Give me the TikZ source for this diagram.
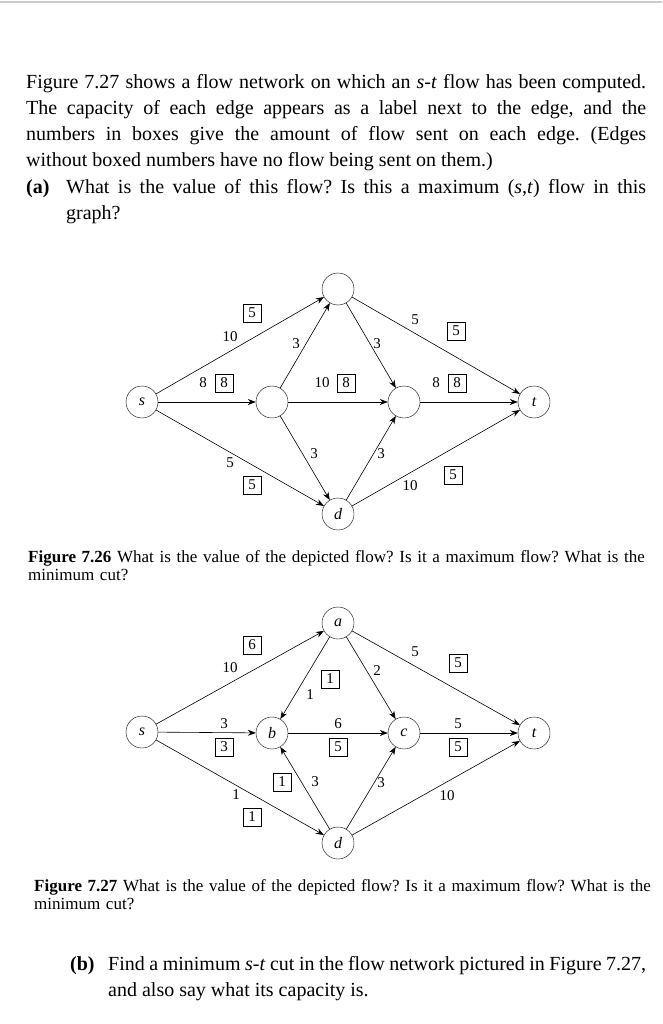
\documentclass[tikz,border=0pt]{standalone}
\usepackage{fontspec}
\setmainfont{Liberation Serif}
\usetikzlibrary{arrows.meta}
\frenchspacing
\begin{document}
\begin{tikzpicture}[x=1pt,y=-1pt,
  vtx/.style={circle,draw,minimum size=32pt,inner sep=0pt,font=\fontsize{16}{16}\selectfont\itshape},
  edge/.style={draw,-{Stealth[length=8pt,width=6pt]},line width=0.6pt},
  capl/.style={font=\fontsize{15}{15}\selectfont,inner sep=1pt},
  fl/.style={draw,font=\fontsize{15}{15}\selectfont,minimum size=18pt,inner sep=0pt},
  para/.style={anchor=north west,inner sep=0pt,align=justify,font=\fontsize{20}{26}\selectfont},
  capt/.style={anchor=north west,inner sep=0pt,align=left,font=\fontsize{17}{18}\selectfont}]
\useasboundingbox (0,0) rectangle (662,1024);
\draw[gray!40,line width=2pt] (0,2) -- (662,2);
\node[para,text width=620pt] (p1) at (26,74) {Figure 7.27 shows a flow network on which an \textit{s}-\textit{t} flow has been computed.\linebreak The capacity of each edge appears as a label next to the edge, and the\linebreak numbers in boxes give the amount of flow sent on each edge. (Edges\linebreak without boxed numbers have no flow being sent on them.)};
\node[para,font=\fontsize{20}{26}\selectfont\bfseries] (qa) at (26,179) {(a)};
\node[para,text width=580pt] (pa) at (66,179) {What is the value of this flow? Is this a maximum (\textit{s},\textit{t}) flow in this\linebreak graph?};
% top graph
\node[vtx] (s1) at (142,402) {s};
\node[vtx] (x1) at (338,289) {};
\node[vtx] (y1) at (272,402) {};
\node[vtx] (z1) at (404,402) {};
\node[vtx] (d1) at (338,514) {d};
\node[vtx] (t1) at (534,402) {t};
\draw[edge] (s1) -- (x1); \draw[edge] (s1) -- (y1); \draw[edge] (s1) -- (d1);
\draw[edge] (y1) -- (x1); \draw[edge] (y1) -- (z1); \draw[edge] (y1) -- (d1);
\draw[edge] (x1) -- (z1); \draw[edge] (d1) -- (z1);
\draw[edge] (x1) -- (t1); \draw[edge] (z1) -- (t1); \draw[edge] (d1) -- (t1);
\node[capl] (c1) at (230,337) {10}; \node[fl] (f1) at (252,313) {5};
\node[capl] (c2) at (296,344) {3}; \node[capl] (c3) at (377,344) {3};
\node[capl] (c4) at (415,320) {5}; \node[fl] (f4) at (456,331) {5};
\node[capl] (c5) at (203,383) {8}; \node[fl] (f5) at (224,383) {8};
\node[capl] (c6) at (322,383) {10}; \node[fl] (f6) at (346,383) {8};
\node[capl] (c7) at (436,383) {8}; \node[fl] (f7) at (457,383) {8};
\node[capl] (c8) at (314,454) {3}; \node[capl] (c9) at (381,454) {3};
\node[capl] (c10) at (230,463) {5}; \node[fl] (f10) at (252,485) {5};
\node[capl] (c11) at (410,486) {10}; \node[fl] (f11) at (453,475) {5};
\node[capt,text width=625pt] (cap1) at (28,550) {\textbf{Figure 7.26} What is the value of the depicted flow? Is it a maximum flow? What is the\\minimum cut?};
% bottom graph
\node[vtx] (s2) at (142,732) {s};
\node[vtx] (a2) at (338,623) {a};
\node[vtx] (b2) at (272,733) {b};
\node[vtx] (c2n) at (404,733) {c};
\node[vtx] (d2) at (338,843) {d};
\node[vtx] (t2) at (534,733) {t};
\draw[edge] (s2) -- (a2); \draw[edge] (s2) -- (b2); \draw[edge] (s2) -- (d2);
\draw[edge] (a2) -- (b2); \draw[edge] (a2) -- (c2n); \draw[edge] (a2) -- (t2);
\draw[edge] (b2) -- (c2n); \draw[edge] (d2) -- (b2); \draw[edge] (d2) -- (c2n);
\draw[edge] (c2n) -- (t2); \draw[edge] (d2) -- (t2);
\node[fl] (g1) at (252,645) {6}; \node[capl] (e1) at (230,668) {10};
\node[fl] (g2) at (330,679) {1}; \node[capl] (e2) at (377,671) {2};
\node[capl] (e3) at (415,652) {5}; \node[fl] (g3) at (458,663) {5};
\node[capl] (e4) at (310,695) {1};
\node[capl] (e5) at (224,724) {3}; \node[fl] (g5) at (224,747) {3};
\node[capl] (e6) at (338,724) {6}; \node[fl] (g6) at (338,747) {5};
\node[capl] (e7) at (458,724) {5}; \node[fl] (g7) at (458,747) {5};
\node[fl] (g8) at (282,782) {1}; \node[capl] (e8) at (315,782) {3};
\node[capl] (e9) at (381,783) {3};
\node[capl] (e10) at (236,795) {1}; \node[fl] (g10) at (252,817) {1};
\node[capl] (e11) at (447,796) {10};
\node[capt,text width=625pt] (cap2) at (34,879) {\textbf{Figure 7.27} What is the value of the depicted flow? Is it a maximum flow? What is the\\minimum cut?};
\node[para,font=\fontsize{20}{26}\selectfont\bfseries] (qb) at (70,956) {(b)};
\node[para,text width=538pt] (pb) at (108,956) {Find a minimum \textit{s}-\textit{t} cut in the flow network pictured in Figure 7.27,\linebreak and also say what its capacity is.};
\end{tikzpicture}
\end{document}
